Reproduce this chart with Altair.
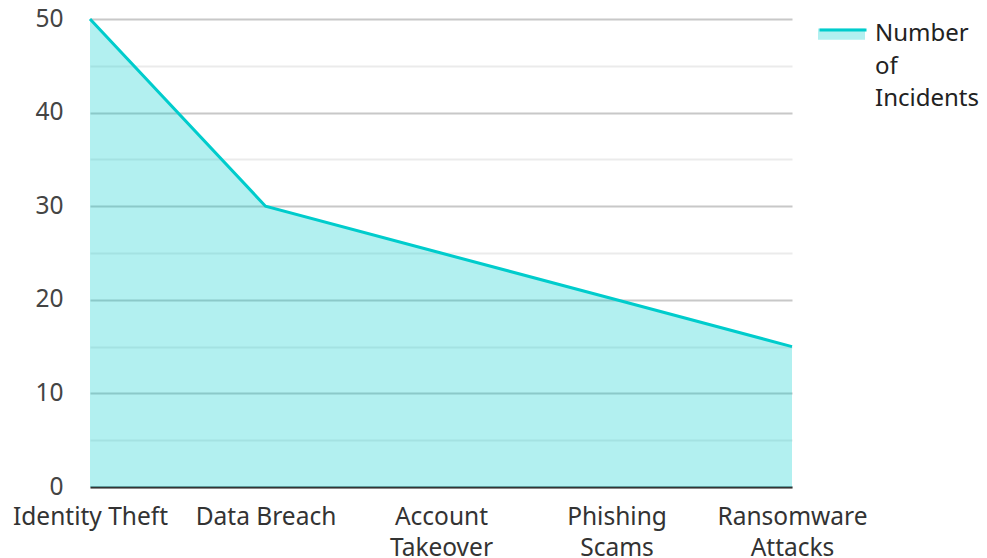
import altair as alt
import pandas as pd

categories = ["Identity Theft", "Data Breach", "Account Takeover", "Phishing Scams", "Ransomware Attacks"]
incidents = [50, 30, 25, 20, 15]
series_name = "Number of Incidents"
legend_lines = ["Number", "of", "Incidents"]

df = pd.DataFrame({"Category": categories, "Incidents": incidents})

FONT = "Noto Sans"
TEAL = "#00cccc"
FS = 24.5

x_enc = alt.X(
    "Category:N",
    sort=categories,
    scale=alt.Scale(type="point", padding=0),
    axis=alt.Axis(
        title=None, labelAngle=0, ticks=False, grid=False,
        domainColor="#333333", domainWidth=2,
        labelFont=FONT, labelFontSize=FS, labelColor="#333333",
        labelPadding=18, labelLineHeight=31, labelOverlap=False,
        labelExpr="indexof(['Identity Theft','Data Breach'], datum.label) >= 0 ? datum.label : split(datum.label, ' ')",
    ),
)
y_enc = alt.Y(
    "Incidents:Q",
    scale=alt.Scale(domain=[0, 50], nice=False),
    axis=alt.Axis(
        title=None, values=[0, 5, 10, 15, 20, 25, 30, 35, 40, 45, 50],
        labelExpr="datum.value % 10 === 0 ? datum.label : ''",
        ticks=False, domain=False,
        gridColor={"condition": {"test": "datum.value % 10 === 0", "value": "#c8c8c8"}, "value": "#ebebeb"},
        gridWidth=2,
        labelFont=FONT, labelFontSize=FS, labelColor="#444444", labelPadding=27,
    ),
)

area = alt.Chart(df).mark_area(opacity=0.3).encode(
    x=x_enc, y=y_enc,
    fill=alt.Fill(
        "s:N",
        scale=alt.Scale(domain=[" " + series_name], range=[TEAL]),
        legend=alt.Legend(
            title=None, orient="none", legendX=728, legendY=3,
            symbolType="M-1,-0.72H1V-0.25H-1Z", symbolSize=2209, symbolOpacity=0.3,
            symbolStrokeWidth=0, labelExpr="''",
        ),
    ),
).transform_calculate(s="' " + series_name + "'")

line = alt.Chart(df).mark_line(strokeWidth=3, color=TEAL).encode(
    x=x_enc, y=y_enc,
    stroke=alt.Stroke(
        "s:N",
        scale=alt.Scale(domain=[series_name], range=[TEAL]),
        legend=alt.Legend(
            title=legend_lines, titleOrient="right", titleLineHeight=32.5,
            titleFont=FONT, titleFontSize=24, titleFontWeight="normal", titleColor="#222222",
            titlePadding=2, titleAnchor="start", titleBaseline="top", titleLimit=300,
            orient="none", legendX=728, legendY=3,
            symbolType="M-1,-0.72H1", symbolSize=2209, symbolStrokeWidth=3,
            labelExpr="''", labelLimit=0,
        ),
    ),
).transform_calculate(s="'" + series_name + "'")

chart = (
    alt.layer(area, line)
    .resolve_scale(fill="independent", stroke="independent")
    .resolve_legend(fill="independent", stroke="independent")
    .properties(
        width=702, height=468,
        autosize=alt.AutoSizeParams(type="none"),
        padding={"left": 82, "top": 11, "right": 187, "bottom": 70},
    )
    .configure_view(stroke="transparent")
)

chart.save("out.html", embed_options={"renderer": "svg", "actions": False})
